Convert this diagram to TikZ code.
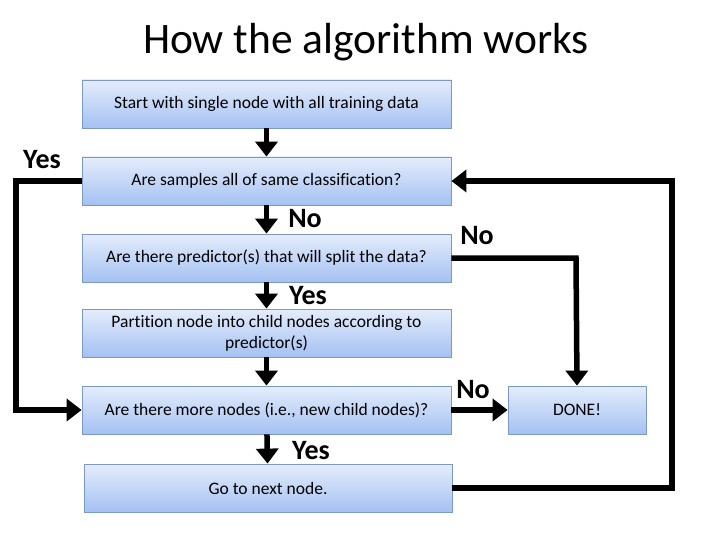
\documentclass[tikz,border=0pt]{standalone}
\usepackage{fontspec}
\setmainfont{Carlito}[Ligatures=NoCommon]
\usetikzlibrary{arrows.meta}
\definecolor{boxtop}{HTML}{E4EDFC}
\definecolor{boxbot}{HTML}{A4C1F2}
\definecolor{boxline}{HTML}{7C98C8}
\tikzset{
  flowbox/.style={draw=boxline, line width=0.8pt, top color=boxtop, bottom color=boxbot,
    minimum height=48pt, inner sep=2pt, font=\fontsize{17.5}{21}\selectfont, align=center},
  conn/.style={line width=5.5pt, -{Triangle[width=22pt,length=15pt]}},
  lbl/.style={font=\fontsize{28}{30}\selectfont\bfseries}
}
\begin{document}
\begin{tikzpicture}[x=1pt,y=-1pt]
\useasboundingbox (0,0) rectangle (720,540);
\node[font=\fontsize{43.5}{48}\selectfont] (title) at (366,42) {How the algorithm works};
\node[flowbox, minimum width=369pt] (b1) at (266.5,104) {Start with single node with all training data};
\node[flowbox, minimum width=369pt] (b2) at (266.5,181) {Are samples all of same classification?};
\node[flowbox, minimum width=369pt] (b3) at (266.5,258) {Are there predictor(s) that will split the data?};
\node[flowbox, minimum width=369pt] (b4) at (266.5,333) {Partition node into child nodes according to\\predictor(s)};
\node[flowbox, minimum width=369pt] (b5) at (266.5,410) {Are there more nodes (i.e., new child nodes)?};
\node[flowbox, minimum width=368pt] (b6) at (268,488) {Go to next node.};
\node[flowbox, minimum width=138pt] (done) at (577,410) {DONE!};
\draw[conn] (b1) -- (b2);
\draw[conn] (b2) -- (b3);
\draw[conn] (b3) -- (b4);
\draw[conn] (b4) -- (b5);
\draw[conn] (b5) -- (b6);
\draw[conn] (b5) -- (done);
\draw[conn] (b2.west) -- (16,181) -- (16,410) -- (b5.west);
\draw[conn] (b3.east) -- (576,258) -- (done.north);
\draw[conn] (b6.east) -- (672,488) -- (672,181) -- (b2.east);
\node[lbl] (l1) at (42,160) {Yes};
\node[lbl] (l2) at (305,219) {No};
\node[lbl] (l3) at (308,296) {Yes};
\node[lbl] (l4) at (311,451) {Yes};
\node[lbl] (l5) at (477,236) {No};
\node[lbl] (l6) at (473,390) {No};
\end{tikzpicture}
\end{document}
